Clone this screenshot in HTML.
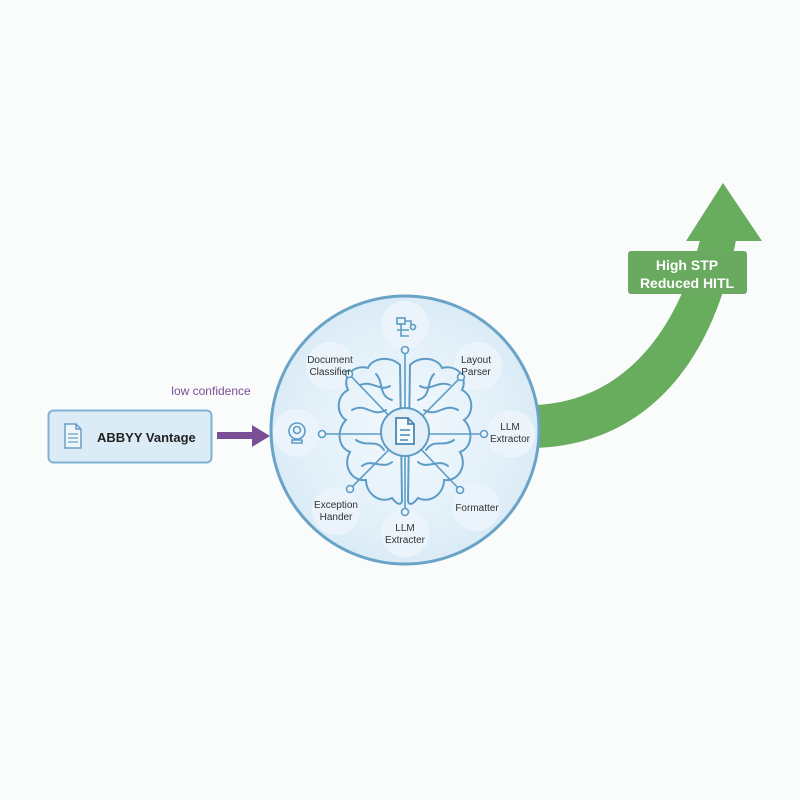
<!DOCTYPE html>
<html><head><style>
html,body{margin:0;padding:0;background:#fafbfb;}
svg{display:block;font-family:"Liberation Sans",sans-serif;}
</style></head><body>
<svg width="800" height="800" viewBox="0 0 800 800" xmlns="http://www.w3.org/2000/svg">
<defs>
<radialGradient id="cg" cx="50%" cy="50%" r="50%">
<stop offset="0" stop-color="#f3f9fd"/><stop offset="1" stop-color="#dbecf7"/>
</radialGradient>
</defs>
<rect width="800" height="800" fill="#fafbfb"/>
<!-- green arrow -->
<path d="M535,405 C610,402 672,350 700,240 L736,240 C712,370 640,445 535,448 Z" fill="#68ac5d"/>
<path d="M686,241 L723,183 L762,241 Z" fill="#68ac5d"/>
<rect x="628" y="251" width="119" height="43" rx="3" fill="#6aaa60"/>
<text x="687" y="270" font-size="14" font-weight="bold" fill="#fff" text-anchor="middle">High STP</text>
<text x="687" y="288" font-size="14" font-weight="bold" fill="#fff" text-anchor="middle">Reduced HITL</text>
<!-- main circle -->
<circle cx="405" cy="430" r="134" fill="url(#cg)" stroke="#6aa3c8" stroke-width="3"/>
<!-- icon backgrounds -->
<g fill="#eaf4fa">
<circle cx="405" cy="325" r="24"/><circle cx="297" cy="433" r="24"/>
<circle cx="330" cy="366" r="24"/><circle cx="478" cy="366" r="24"/>
<circle cx="511" cy="434" r="24"/><circle cx="336" cy="511" r="24"/>
<circle cx="476" cy="507" r="24"/><circle cx="405" cy="533" r="24"/>
</g>
<!-- brain -->
<g fill="none" stroke="#5d9cc6" stroke-width="2" stroke-linecap="round">
<path d="M400,365 C390,355 372,358 368,368 C352,364 342,378 348,390 C336,396 336,414 346,420 C336,430 338,448 350,452 C342,466 352,482 366,480 C366,494 380,504 392,498 C398,506 402,505 402,500 Z"/>
<path d="M410,365 C420,355 438,358 442,368 C458,364 468,378 462,390 C474,396 474,414 464,420 C474,430 472,448 460,452 C468,466 458,482 444,480 C444,494 430,504 418,498 C412,506 408,505 408,500 Z"/>
<path d="M360,385 C372,380 380,392 390,386 M352,410 C366,402 372,418 386,410 M356,440 C368,448 376,438 384,450 M362,466 C372,458 382,470 392,462 M376,374 C384,382 378,396 392,400"/>
<path d="M450,385 C438,380 430,392 420,386 M458,410 C444,402 438,418 424,410 M454,440 C442,448 434,438 426,450 M448,466 C438,458 428,470 418,462 M434,374 C426,382 432,396 418,400"/>
</g>
<!-- spokes -->
<g stroke="#5d9cc6" stroke-width="1.6" fill="none">
<line x1="405" y1="352" x2="405" y2="512"/>
<line x1="324" y1="434" x2="484" y2="434"/>
<line x1="349" y1="374" x2="460" y2="490"/>
<line x1="461" y1="377" x2="350" y2="489"/>
</g>
<g fill="#eef6fb" stroke="#5d9cc6" stroke-width="1.6">
<circle cx="405" cy="350" r="3.5"/><circle cx="405" cy="512" r="3.5"/>
<circle cx="322" cy="434" r="3.5"/><circle cx="484" cy="434" r="3.5"/>
<circle cx="349" cy="374" r="3.5"/><circle cx="461" cy="377" r="3.5"/>
<circle cx="350" cy="489" r="3.5"/><circle cx="460" cy="490" r="3.5"/>
</g>
<!-- center node -->
<circle cx="405" cy="432" r="24" fill="#e4f0f8" stroke="#5d9cc6" stroke-width="2"/>
<path d="M396,418 h12 l6,6 v20 h-18 Z M408,418 v6 h6" fill="#f4f9fc" stroke="#4a87b3" stroke-width="1.8"/>
<path d="M400,430 h10 M400,435 h10 M400,440 h8" stroke="#4a87b3" stroke-width="1.5"/>
<!-- top icon -->
<g fill="none" stroke="#5d9cc6" stroke-width="1.6">
<rect x="397" y="318" width="8" height="6"/><path d="M401,324 v6 h8 M397,330 h4 v6 h8 M405,321 h6 v4"/><circle cx="413" cy="327" r="2.5"/>
</g>
<!-- left icon -->
<g fill="none" stroke="#5d9cc6" stroke-width="1.6">
<circle cx="297" cy="431" r="8"/><circle cx="297" cy="430" r="3.5"/><path d="M292,440 h10 v3 h-10 Z"/>
</g>
<!-- labels -->
<g font-size="10" fill="#333" text-anchor="middle">
<text x="330" y="363">Document</text><text x="330" y="375">Classifier</text>
<text x="476" y="363">Layout</text><text x="476" y="375">Parser</text>
<text x="510" y="430">LLM</text><text x="510" y="442">Extractor</text>
<text x="336" y="508">Exception</text><text x="336" y="520">Hander</text>
<text x="477" y="511">Formatter</text>
<text x="405" y="531">LLM</text><text x="405" y="543">Extracter</text>
</g>
<!-- ABBYY box -->
<rect x="48.5" y="410.5" width="163" height="52" rx="5" fill="#dcecf7" stroke="#7fb1d3" stroke-width="2"/>
<path d="M65,424 h11 l5,5 v19 h-16 Z M76,424 v5 h5" fill="#eef6fb" stroke="#6a9fc6" stroke-width="1.5"/>
<path d="M68,434 h10 M68,438 h10 M68,442 h10" stroke="#6a9fc6" stroke-width="1.3"/>
<text x="97" y="442" font-size="13" font-weight="bold" fill="#222">ABBYY Vantage</text>
<!-- purple arrow -->
<rect x="217" y="432" width="37" height="7" fill="#7b4f96"/>
<path d="M252,425 L270,436 L252,447 Z" fill="#7b4f96"/>
<text x="211" y="395" font-size="12" fill="#7b4f96" text-anchor="middle">low confidence</text>
</svg>
</body></html>
